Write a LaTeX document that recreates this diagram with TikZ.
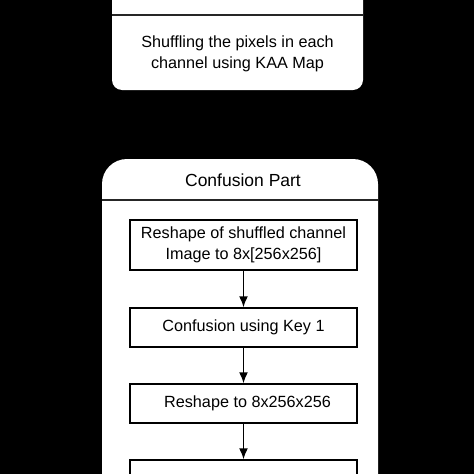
\documentclass[tikz,border=0pt]{standalone}
\usepackage{fontspec}
\setmainfont{Liberation Sans}
\usetikzlibrary{arrows.meta}
\begin{document}
\begin{tikzpicture}[x=1pt,y=-1pt,
  txt/.style={font=\fontsize{16.2}{21}\selectfont, align=center, inner sep=0pt},
  stepbox/.style={draw=black, line width=1.5pt, fill=white, minimum width=227pt, inner sep=0pt, txt},
  sepline/.style={draw=black!85, line width=2pt},
  conn/.style={draw=black, line width=1.5pt, -{Latex[length=11pt,width=9pt]}}
]
\useasboundingbox (0,0) rectangle (474,474);
\fill[black] (0,0) rectangle (474,474);
\clip (0,0) rectangle (474,474);
% top container
\fill[white, rounded corners=10pt] (112,-30) rectangle (363,90);
\draw[sepline] (112,14.5) -- (363,14.5);
\node[txt] (shuf) at (237.5,54) {Shuffling the pixels in each\\channel using KAA Map};
% confusion container
\fill[white, rounded corners=25pt] (102,159) rectangle (378,560);
\draw[sepline] (102,199.5) -- (378,199.5);
\node[txt, font=\fontsize{17.5}{21}\selectfont] (title) at (243,180) {Confusion Part};
% steps
\node[stepbox, minimum height=50pt] (b1) at (243.5,245) {Reshape of shuffled channel\\Image to 8x[256x256]};
\node[stepbox, minimum height=39pt] (b2) at (243.5,327.5) {Confusion using Key 1};
\node[stepbox, minimum height=39pt] (b3) at (243.5,403.5) {\hspace*{8pt}Reshape to 8x256x256};
\node[stepbox, minimum height=40pt] (b4) at (243.5,480) {};
\draw[conn] (b1) -- (b2);
\draw[conn] (b2) -- (b3);
\draw[conn] (b3) -- (b4);
\end{tikzpicture}
\end{document}
